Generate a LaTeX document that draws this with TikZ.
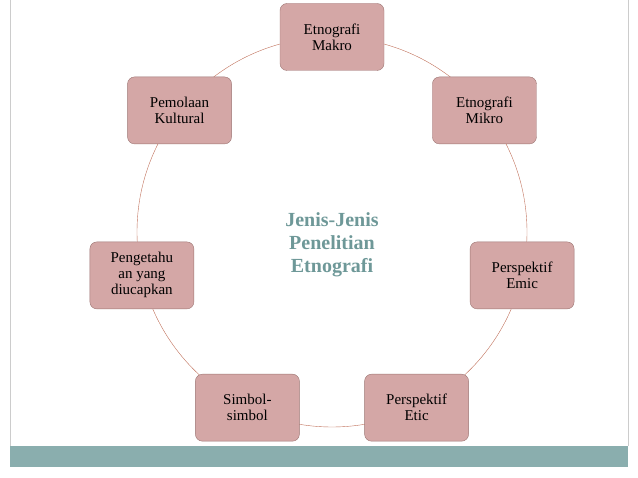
\documentclass[tikz,border=0pt]{standalone}
\usepackage{fontspec}
\setmainfont{Liberation Serif}
\usetikzlibrary{calc}
\definecolor{boxfill}{HTML}{D4A7A6}
\definecolor{boxline}{HTML}{9C7472}
\definecolor{ringline}{HTML}{C0705A}
\definecolor{teal}{HTML}{8AAEAE}
\definecolor{titlecol}{HTML}{6E9898}
\begin{document}
\begin{tikzpicture}[x=1pt,y=-1pt,
  jenis/.style={draw=boxline,fill=boxfill,rounded corners=7pt,minimum width=104pt,
    minimum height=67pt,align=center,font=\fontsize{15}{16}\selectfont,inner sep=2pt}]
  \useasboundingbox (0,0) rectangle (638,478);
  \draw[gray!40] (10,0) -- (10,446) (628,0) -- (628,446);
  \fill[teal] (10,446) rectangle (628,467);
  \coordinate (pusat) at (332,232);
  \draw[ringline,thin] (pusat) circle (195);
  \foreach \teks [count=\i] in {Etnografi\\Makro,Etnografi\\Mikro,Perspektif\\Emic,
      Perspektif\\Etic,Simbol-\\simbol,Pengetahu\\an yang\\diucapkan,Pemolaan\\Kultural}
    \node[jenis] (n\i) at ($(pusat)+({(\i-1)*360/7-90}:195)$) {\teks};
  \node[font=\bfseries\fontsize{20}{23}\selectfont,text=titlecol,align=center] (judul)
    at (332,245) {Jenis-Jenis\\Penelitian\\Etnografi};
\end{tikzpicture}
\end{document}
